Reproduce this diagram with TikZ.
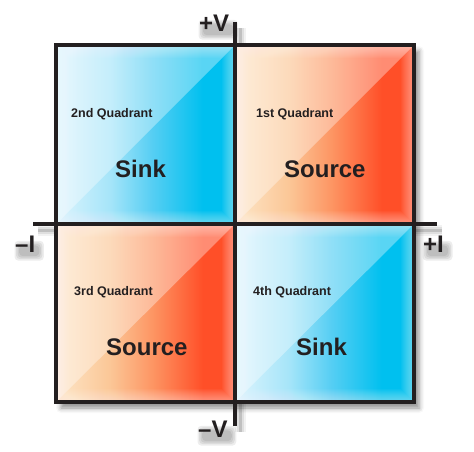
\documentclass[tikz,border=0pt]{standalone}
\usepackage{fontspec}
\setmainfont{Liberation Sans}
\usetikzlibrary{calc,shadows.blur}

\definecolor{inkdark}{HTML}{231F20}
\definecolor{sinkA}{HTML}{DDF4FD}
\definecolor{sinkB}{HTML}{A6E5F9}
\definecolor{sinkC}{HTML}{55CEF3}
\definecolor{sinkD}{HTML}{00C0EF}
\definecolor{srcA}{HTML}{FDE6C8}
\definecolor{srcB}{HTML}{FBC797}
\definecolor{srcC}{HTML}{FD9563}
\definecolor{srcD}{HTML}{FF4F28}

% box maps to 25bp..75bp
\pgfdeclarehorizontalshading{sinkfill}{100bp}{color(0bp)=(sinkA); color(25bp)=(sinkA);
  color(40bp)=(sinkB); color(52bp)=(sinkC); color(66bp)=(sinkD); color(100bp)=(sinkD)}
\pgfdeclarehorizontalshading{sourcefill}{100bp}{color(0bp)=(srcA); color(25bp)=(srcA);
  color(40bp)=(srcB); color(52bp)=(srcC); color(66bp)=(srcD); color(100bp)=(srcD)}

\tikzset{
  frame/.style={draw=inkdark, line width=3.5pt},
  axisline/.style={draw=inkdark, line width=3.5pt},
  quadlbl/.style={inner sep=0pt, anchor=base west, text=inkdark,
    font=\bfseries\fontsize{12.5}{14}\selectfont},
  rolelbl/.style={inner sep=0pt, anchor=base west, text=inkdark,
    font=\bfseries\fontsize{24}{28}\selectfont},
  axislbl/.style={inner sep=0pt, anchor=base west, text=inkdark,
    font=\bfseries\fontsize{24}{28}\selectfont},
  lblshadow/.style={black, opacity=0.07},
}

\begin{document}
\begin{tikzpicture}[x=1pt,y=-1pt]
\useasboundingbox (0,0) rectangle (474,451);

\coordinate (tl) at (56,45);
\coordinate (br) at (414,402);
\coordinate (vtop) at (235,22);
\coordinate (vbot) at (235,426);
\coordinate (hleft) at (33,224);
\coordinate (hright) at (437,224);

% label boxes (text comes later), shadows drawn first
\path (199,31) node[axislbl, opacity=0] (pvbox) {+V}
      (198,437) node[axislbl, opacity=0] (nvbox) {--V}
      (15,252) node[axislbl, opacity=0] (nibox) {--I}
      (423,252) node[axislbl, opacity=0] (pibox) {+I};
\foreach \n in {pvbox,nvbox,nibox,pibox}
  \foreach \g in {0,1.5,3,4.5}
    \fill[lblshadow, rounded corners=4pt]
      ($(\n.south west)+(4-\g,4+\g)$) rectangle ($(\n.north east)+(4+\g,10-\g)$);

\path[blur shadow={shadow xshift=5pt, shadow yshift=-6pt, shadow blur radius=5pt, shadow opacity=45}] (tl) rectangle (br);
\foreach \w/\o in {3/0.14,7/0.08,11/0.05}{
  \draw[black, opacity=\o, line width=\w pt] ($(vtop)+(5,6)$) -- ($(vbot)+(5,6)$);
  \draw[black, opacity=\o, line width=\w pt] ($(hleft)+(5,6)$) -- ($(hright)+(5,6)$);
}

% quadrants
\foreach \xa/\ya/\xb/\yb/\shd in {56/45/235/224/sinkfill, 235/45/414/224/sourcefill,
                                 56/224/235/402/sourcefill, 235/224/414/402/sinkfill}{
  \begin{scope}
    \clip (\xa,\ya) rectangle (\xb,\yb);
    \shade[shading=\shd] (\xa,\ya) rectangle (\xb,\yb);
    \fill[white, opacity=0.35] (\xa,\yb) -- (\xa,\ya) -- (\xb,\ya) -- cycle;
    \foreach \w in {2,4,...,26}
      \draw[white, opacity=0.04, line width=\w pt] (\xa,\ya) rectangle (\xb,\yb);
  \end{scope}
}

\draw[frame] (tl) rectangle (br);
\draw[axisline] (vtop) -- (vbot);
\draw[axisline] (hleft) -- (hright);

\node[quadlbl] (q2) at (71,117) {2nd Quadrant};
\node[quadlbl] (q1) at (256,117) {1st Quadrant};
\node[quadlbl] (q3) at (74,295) {3rd Quadrant};
\node[quadlbl] (q4) at (253,295) {4th Quadrant};

\node[rolelbl] (sink2) at (115,177) {Sink};
\node[rolelbl] (source1) at (284,177) {Source};
\node[rolelbl] (source3) at (106,355) {Source};
\node[rolelbl] (sink4) at (296,355) {Sink};

\node[axislbl] (pv) at (199,31) {+V};
\node[axislbl] (nv) at (198,437) {--V};
\node[axislbl] (ni) at (15,252) {--I};
\node[axislbl] (pi) at (423,252) {+I};
\end{tikzpicture}
\end{document}
